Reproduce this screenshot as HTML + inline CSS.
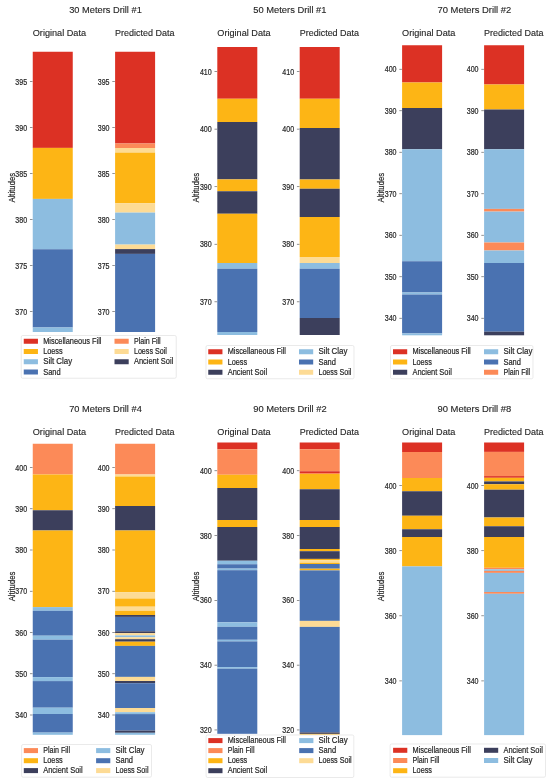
<!DOCTYPE html>
<html><head><meta charset="utf-8"><style>
html,body{margin:0;padding:0;background:#fff;}
body{width:550px;height:781px;overflow:hidden;}
svg{display:block;filter:blur(0.35px);}
.t{font-family:"Liberation Sans",sans-serif;font-size:8.5px;fill:#262626;stroke:#262626;stroke-width:0.12px;}
.k{font-family:"Liberation Sans",sans-serif;font-size:7.8px;fill:#262626;stroke:#262626;stroke-width:0.18px;}
.a{font-family:"Liberation Sans",sans-serif;font-size:7.8px;fill:#262626;stroke:#262626;stroke-width:0.18px;}
</style></head><body>
<svg width="550" height="781" viewBox="0 0 550 781">
<rect x="0" y="0" width="550" height="781" fill="#fff"/>
<text x="69.2" y="13.1" textLength="72.6" lengthAdjust="spacingAndGlyphs" class="t">30 Meters Drill #1</text>
<text x="32.75" y="36" textLength="53.3" lengthAdjust="spacingAndGlyphs" class="t">Original Data</text>
<text x="115.1" y="36" textLength="59.4" lengthAdjust="spacingAndGlyphs" class="t">Predicted Data</text>
<text transform="translate(14.55 187.7) rotate(-90) scale(1 1.15)" x="0" y="0" text-anchor="middle" textLength="29.8" lengthAdjust="spacingAndGlyphs" class="a">Altitudes</text>
<rect x="32.75" y="51.75" width="40" height="96.15" fill="#dc3124"/>
<rect x="32.75" y="147.9" width="40" height="51" fill="#fdb515"/>
<rect x="32.75" y="198.9" width="40" height="50.35" fill="#8dbde0"/>
<rect x="32.75" y="249.25" width="40" height="78.25" fill="#4a72b1"/>
<rect x="32.75" y="327.5" width="40" height="4.5" fill="#8dbde0"/>
<rect x="29.95" y="81.15" width="2.6" height="0.7" fill="#666"/>
<text transform="translate(27.15 84.6) scale(1 1.18)" text-anchor="end" textLength="11.8" lengthAdjust="spacingAndGlyphs" class="k">395</text>
<rect x="29.95" y="127.15" width="2.6" height="0.7" fill="#666"/>
<text transform="translate(27.15 130.6) scale(1 1.18)" text-anchor="end" textLength="11.8" lengthAdjust="spacingAndGlyphs" class="k">390</text>
<rect x="29.95" y="173.15" width="2.6" height="0.7" fill="#666"/>
<text transform="translate(27.15 176.6) scale(1 1.18)" text-anchor="end" textLength="11.8" lengthAdjust="spacingAndGlyphs" class="k">385</text>
<rect x="29.95" y="219.15" width="2.6" height="0.7" fill="#666"/>
<text transform="translate(27.15 222.6) scale(1 1.18)" text-anchor="end" textLength="11.8" lengthAdjust="spacingAndGlyphs" class="k">380</text>
<rect x="29.95" y="265.15" width="2.6" height="0.7" fill="#666"/>
<text transform="translate(27.15 268.6) scale(1 1.18)" text-anchor="end" textLength="11.8" lengthAdjust="spacingAndGlyphs" class="k">375</text>
<rect x="29.95" y="311.15" width="2.6" height="0.7" fill="#666"/>
<text transform="translate(27.15 314.6) scale(1 1.18)" text-anchor="end" textLength="11.8" lengthAdjust="spacingAndGlyphs" class="k">370</text>
<rect x="115.1" y="51.75" width="40" height="91.75" fill="#dc3124"/>
<rect x="115.1" y="143.5" width="40" height="4.5" fill="#fc8a58"/>
<rect x="115.1" y="148" width="40" height="4.6" fill="#fddb95"/>
<rect x="115.1" y="152.6" width="40" height="50.5" fill="#fdb515"/>
<rect x="115.1" y="203.1" width="40" height="9.5" fill="#fddb95"/>
<rect x="115.1" y="212.6" width="40" height="32" fill="#8dbde0"/>
<rect x="115.1" y="244.6" width="40" height="4.5" fill="#fddb95"/>
<rect x="115.1" y="249.1" width="40" height="4.8" fill="#3c3f5c"/>
<rect x="115.1" y="253.9" width="40" height="78.1" fill="#4a72b1"/>
<rect x="112.3" y="81.15" width="2.6" height="0.7" fill="#666"/>
<text transform="translate(109.5 84.6) scale(1 1.18)" text-anchor="end" textLength="11.8" lengthAdjust="spacingAndGlyphs" class="k">395</text>
<rect x="112.3" y="127.15" width="2.6" height="0.7" fill="#666"/>
<text transform="translate(109.5 130.6) scale(1 1.18)" text-anchor="end" textLength="11.8" lengthAdjust="spacingAndGlyphs" class="k">390</text>
<rect x="112.3" y="173.15" width="2.6" height="0.7" fill="#666"/>
<text transform="translate(109.5 176.6) scale(1 1.18)" text-anchor="end" textLength="11.8" lengthAdjust="spacingAndGlyphs" class="k">385</text>
<rect x="112.3" y="219.15" width="2.6" height="0.7" fill="#666"/>
<text transform="translate(109.5 222.6) scale(1 1.18)" text-anchor="end" textLength="11.8" lengthAdjust="spacingAndGlyphs" class="k">380</text>
<rect x="112.3" y="265.15" width="2.6" height="0.7" fill="#666"/>
<text transform="translate(109.5 268.6) scale(1 1.18)" text-anchor="end" textLength="11.8" lengthAdjust="spacingAndGlyphs" class="k">375</text>
<rect x="112.3" y="311.15" width="2.6" height="0.7" fill="#666"/>
<text transform="translate(109.5 314.6) scale(1 1.18)" text-anchor="end" textLength="11.8" lengthAdjust="spacingAndGlyphs" class="k">370</text>
<rect x="21.25" y="335.5" width="155" height="42.75" rx="1.5" fill="#ffffff" fill-opacity="0.8" stroke="#dcdcdc" stroke-width="0.6"/>
<rect x="23.75" y="338.75" width="14.2" height="5" fill="#dc3124"/>
<text transform="translate(43.15 343.95) scale(1 1.07)" textLength="58.3" lengthAdjust="spacingAndGlyphs" class="k">Miscellaneous Fill</text>
<rect x="23.75" y="349" width="14.2" height="5" fill="#fdb515"/>
<text transform="translate(43.15 354.2) scale(1 1.07)" textLength="19.5" lengthAdjust="spacingAndGlyphs" class="k">Loess</text>
<rect x="23.75" y="359.25" width="14.2" height="5" fill="#8dbde0"/>
<text transform="translate(43.15 364.45) scale(1 1.07)" textLength="29" lengthAdjust="spacingAndGlyphs" class="k">Silt Clay</text>
<rect x="23.75" y="369.5" width="14.2" height="5" fill="#4a72b1"/>
<text transform="translate(43.15 374.7) scale(1 1.07)" textLength="17.5" lengthAdjust="spacingAndGlyphs" class="k">Sand</text>
<rect x="114.5" y="338.75" width="14.2" height="5" fill="#fc8a58"/>
<text transform="translate(133.9 343.95) scale(1 1.07)" textLength="26.8" lengthAdjust="spacingAndGlyphs" class="k">Plain Fill</text>
<rect x="114.5" y="349" width="14.2" height="5" fill="#fddb95"/>
<text transform="translate(133.9 354.2) scale(1 1.07)" textLength="33" lengthAdjust="spacingAndGlyphs" class="k">Loess Soil</text>
<rect x="114.5" y="359.25" width="14.2" height="5" fill="#3c3f5c"/>
<text transform="translate(133.9 364.45) scale(1 1.07)" textLength="39.4" lengthAdjust="spacingAndGlyphs" class="k">Ancient Soil</text>
<text x="253.25" y="13.1" textLength="73.25" lengthAdjust="spacingAndGlyphs" class="t">50 Meters Drill #1</text>
<text x="217.3" y="36" textLength="53.3" lengthAdjust="spacingAndGlyphs" class="t">Original Data</text>
<text x="299.7" y="36" textLength="59.4" lengthAdjust="spacingAndGlyphs" class="t">Predicted Data</text>
<text transform="translate(199.1 187.7) rotate(-90) scale(1 1.15)" x="0" y="0" text-anchor="middle" textLength="29.8" lengthAdjust="spacingAndGlyphs" class="a">Altitudes</text>
<rect x="217.3" y="47" width="40" height="51.75" fill="#dc3124"/>
<rect x="217.3" y="98.75" width="40" height="23.25" fill="#fdb515"/>
<rect x="217.3" y="122" width="40" height="57.4" fill="#3c3f5c"/>
<rect x="217.3" y="179.4" width="40" height="11.85" fill="#fdb515"/>
<rect x="217.3" y="191.25" width="40" height="22.5" fill="#3c3f5c"/>
<rect x="217.3" y="213.75" width="40" height="49.25" fill="#fdb515"/>
<rect x="217.3" y="263" width="40" height="5.75" fill="#8dbde0"/>
<rect x="217.3" y="268.75" width="40" height="63.25" fill="#4a72b1"/>
<rect x="217.3" y="332" width="40" height="3" fill="#8dbde0"/>
<rect x="214.5" y="71.22" width="2.6" height="0.7" fill="#666"/>
<text transform="translate(211.7 74.67) scale(1 1.18)" text-anchor="end" textLength="11.8" lengthAdjust="spacingAndGlyphs" class="k">410</text>
<rect x="214.5" y="128.78" width="2.6" height="0.7" fill="#666"/>
<text transform="translate(211.7 132.23) scale(1 1.18)" text-anchor="end" textLength="11.8" lengthAdjust="spacingAndGlyphs" class="k">400</text>
<rect x="214.5" y="186.34" width="2.6" height="0.7" fill="#666"/>
<text transform="translate(211.7 189.79) scale(1 1.18)" text-anchor="end" textLength="11.8" lengthAdjust="spacingAndGlyphs" class="k">390</text>
<rect x="214.5" y="243.9" width="2.6" height="0.7" fill="#666"/>
<text transform="translate(211.7 247.35) scale(1 1.18)" text-anchor="end" textLength="11.8" lengthAdjust="spacingAndGlyphs" class="k">380</text>
<rect x="214.5" y="301.46" width="2.6" height="0.7" fill="#666"/>
<text transform="translate(211.7 304.91) scale(1 1.18)" text-anchor="end" textLength="11.8" lengthAdjust="spacingAndGlyphs" class="k">370</text>
<rect x="299.7" y="47" width="40" height="51.75" fill="#dc3124"/>
<rect x="299.7" y="98.75" width="40" height="29.25" fill="#fdb515"/>
<rect x="299.7" y="128" width="40" height="51.5" fill="#3c3f5c"/>
<rect x="299.7" y="179.5" width="40" height="9.25" fill="#fdb515"/>
<rect x="299.7" y="188.75" width="40" height="28.25" fill="#3c3f5c"/>
<rect x="299.7" y="217" width="40" height="40" fill="#fdb515"/>
<rect x="299.7" y="257" width="40" height="6" fill="#fddb95"/>
<rect x="299.7" y="263" width="40" height="5.75" fill="#8dbde0"/>
<rect x="299.7" y="268.75" width="40" height="49.25" fill="#4a72b1"/>
<rect x="299.7" y="318" width="40" height="17" fill="#3c3f5c"/>
<rect x="296.9" y="71.22" width="2.6" height="0.7" fill="#666"/>
<text transform="translate(294.1 74.67) scale(1 1.18)" text-anchor="end" textLength="11.8" lengthAdjust="spacingAndGlyphs" class="k">410</text>
<rect x="296.9" y="128.78" width="2.6" height="0.7" fill="#666"/>
<text transform="translate(294.1 132.23) scale(1 1.18)" text-anchor="end" textLength="11.8" lengthAdjust="spacingAndGlyphs" class="k">400</text>
<rect x="296.9" y="186.34" width="2.6" height="0.7" fill="#666"/>
<text transform="translate(294.1 189.79) scale(1 1.18)" text-anchor="end" textLength="11.8" lengthAdjust="spacingAndGlyphs" class="k">390</text>
<rect x="296.9" y="243.9" width="2.6" height="0.7" fill="#666"/>
<text transform="translate(294.1 247.35) scale(1 1.18)" text-anchor="end" textLength="11.8" lengthAdjust="spacingAndGlyphs" class="k">380</text>
<rect x="296.9" y="301.46" width="2.6" height="0.7" fill="#666"/>
<text transform="translate(294.1 304.91) scale(1 1.18)" text-anchor="end" textLength="11.8" lengthAdjust="spacingAndGlyphs" class="k">370</text>
<rect x="206" y="345.5" width="148" height="33.25" rx="1.5" fill="#ffffff" fill-opacity="0.8" stroke="#dcdcdc" stroke-width="0.6"/>
<rect x="208.25" y="349.25" width="14.2" height="5" fill="#dc3124"/>
<text transform="translate(227.65 354.45) scale(1 1.07)" textLength="58.3" lengthAdjust="spacingAndGlyphs" class="k">Miscellaneous Fill</text>
<rect x="208.25" y="359.5" width="14.2" height="5" fill="#fdb515"/>
<text transform="translate(227.65 364.7) scale(1 1.07)" textLength="19.5" lengthAdjust="spacingAndGlyphs" class="k">Loess</text>
<rect x="208.25" y="369.75" width="14.2" height="5" fill="#3c3f5c"/>
<text transform="translate(227.65 374.95) scale(1 1.07)" textLength="39.4" lengthAdjust="spacingAndGlyphs" class="k">Ancient Soil</text>
<rect x="299" y="349.25" width="14.2" height="5" fill="#8dbde0"/>
<text transform="translate(318.4 354.45) scale(1 1.07)" textLength="29" lengthAdjust="spacingAndGlyphs" class="k">Silt Clay</text>
<rect x="299" y="359.5" width="14.2" height="5" fill="#4a72b1"/>
<text transform="translate(318.4 364.7) scale(1 1.07)" textLength="17.5" lengthAdjust="spacingAndGlyphs" class="k">Sand</text>
<rect x="299" y="369.75" width="14.2" height="5" fill="#fddb95"/>
<text transform="translate(318.4 374.95) scale(1 1.07)" textLength="33" lengthAdjust="spacingAndGlyphs" class="k">Loess Soil</text>
<text x="437.5" y="13.1" textLength="73.75" lengthAdjust="spacingAndGlyphs" class="t">70 Meters Drill #2</text>
<text x="402.1" y="36" textLength="53.3" lengthAdjust="spacingAndGlyphs" class="t">Original Data</text>
<text x="484.1" y="36" textLength="59.4" lengthAdjust="spacingAndGlyphs" class="t">Predicted Data</text>
<text transform="translate(383.9 187.7) rotate(-90) scale(1 1.15)" x="0" y="0" text-anchor="middle" textLength="29.8" lengthAdjust="spacingAndGlyphs" class="a">Altitudes</text>
<rect x="402.1" y="45.25" width="40" height="37.25" fill="#dc3124"/>
<rect x="402.1" y="82.5" width="40" height="25.5" fill="#fdb515"/>
<rect x="402.1" y="108" width="40" height="41.25" fill="#3c3f5c"/>
<rect x="402.1" y="149.25" width="40" height="112" fill="#8dbde0"/>
<rect x="402.1" y="261.25" width="40" height="31.25" fill="#4a72b1"/>
<rect x="402.1" y="292.5" width="40" height="2" fill="#8dbde0"/>
<rect x="402.1" y="294.5" width="40" height="38.9" fill="#4a72b1"/>
<rect x="402.1" y="333.4" width="40" height="1.9" fill="#8dbde0"/>
<rect x="399.3" y="68.9" width="2.6" height="0.7" fill="#666"/>
<text transform="translate(396.5 72.35) scale(1 1.18)" text-anchor="end" textLength="11.8" lengthAdjust="spacingAndGlyphs" class="k">400</text>
<rect x="399.3" y="110.4" width="2.6" height="0.7" fill="#666"/>
<text transform="translate(396.5 113.85) scale(1 1.18)" text-anchor="end" textLength="11.8" lengthAdjust="spacingAndGlyphs" class="k">390</text>
<rect x="399.3" y="151.9" width="2.6" height="0.7" fill="#666"/>
<text transform="translate(396.5 155.35) scale(1 1.18)" text-anchor="end" textLength="11.8" lengthAdjust="spacingAndGlyphs" class="k">380</text>
<rect x="399.3" y="193.4" width="2.6" height="0.7" fill="#666"/>
<text transform="translate(396.5 196.85) scale(1 1.18)" text-anchor="end" textLength="11.8" lengthAdjust="spacingAndGlyphs" class="k">370</text>
<rect x="399.3" y="234.9" width="2.6" height="0.7" fill="#666"/>
<text transform="translate(396.5 238.35) scale(1 1.18)" text-anchor="end" textLength="11.8" lengthAdjust="spacingAndGlyphs" class="k">360</text>
<rect x="399.3" y="276.4" width="2.6" height="0.7" fill="#666"/>
<text transform="translate(396.5 279.85) scale(1 1.18)" text-anchor="end" textLength="11.8" lengthAdjust="spacingAndGlyphs" class="k">350</text>
<rect x="399.3" y="317.9" width="2.6" height="0.7" fill="#666"/>
<text transform="translate(396.5 321.35) scale(1 1.18)" text-anchor="end" textLength="11.8" lengthAdjust="spacingAndGlyphs" class="k">340</text>
<rect x="484.1" y="45.25" width="40" height="39.25" fill="#dc3124"/>
<rect x="484.1" y="84.5" width="40" height="25" fill="#fdb515"/>
<rect x="484.1" y="109.5" width="40" height="39.75" fill="#3c3f5c"/>
<rect x="484.1" y="149.25" width="40" height="59.65" fill="#8dbde0"/>
<rect x="484.1" y="208.9" width="40" height="2.7" fill="#fc8a58"/>
<rect x="484.1" y="211.6" width="40" height="30.9" fill="#8dbde0"/>
<rect x="484.1" y="242.5" width="40" height="8" fill="#fc8a58"/>
<rect x="484.1" y="250.5" width="40" height="12.5" fill="#8dbde0"/>
<rect x="484.1" y="263" width="40" height="68.7" fill="#4a72b1"/>
<rect x="484.1" y="331.7" width="40" height="3.6" fill="#3c3f5c"/>
<rect x="481.3" y="68.9" width="2.6" height="0.7" fill="#666"/>
<text transform="translate(478.5 72.35) scale(1 1.18)" text-anchor="end" textLength="11.8" lengthAdjust="spacingAndGlyphs" class="k">400</text>
<rect x="481.3" y="110.4" width="2.6" height="0.7" fill="#666"/>
<text transform="translate(478.5 113.85) scale(1 1.18)" text-anchor="end" textLength="11.8" lengthAdjust="spacingAndGlyphs" class="k">390</text>
<rect x="481.3" y="151.9" width="2.6" height="0.7" fill="#666"/>
<text transform="translate(478.5 155.35) scale(1 1.18)" text-anchor="end" textLength="11.8" lengthAdjust="spacingAndGlyphs" class="k">380</text>
<rect x="481.3" y="193.4" width="2.6" height="0.7" fill="#666"/>
<text transform="translate(478.5 196.85) scale(1 1.18)" text-anchor="end" textLength="11.8" lengthAdjust="spacingAndGlyphs" class="k">370</text>
<rect x="481.3" y="234.9" width="2.6" height="0.7" fill="#666"/>
<text transform="translate(478.5 238.35) scale(1 1.18)" text-anchor="end" textLength="11.8" lengthAdjust="spacingAndGlyphs" class="k">360</text>
<rect x="481.3" y="276.4" width="2.6" height="0.7" fill="#666"/>
<text transform="translate(478.5 279.85) scale(1 1.18)" text-anchor="end" textLength="11.8" lengthAdjust="spacingAndGlyphs" class="k">350</text>
<rect x="481.3" y="317.9" width="2.6" height="0.7" fill="#666"/>
<text transform="translate(478.5 321.35) scale(1 1.18)" text-anchor="end" textLength="11.8" lengthAdjust="spacingAndGlyphs" class="k">340</text>
<rect x="390.5" y="345.5" width="142.5" height="33.25" rx="1.5" fill="#ffffff" fill-opacity="0.8" stroke="#dcdcdc" stroke-width="0.6"/>
<rect x="393" y="349.25" width="14.2" height="5" fill="#dc3124"/>
<text transform="translate(412.4 354.45) scale(1 1.07)" textLength="58.3" lengthAdjust="spacingAndGlyphs" class="k">Miscellaneous Fill</text>
<rect x="393" y="359.5" width="14.2" height="5" fill="#fdb515"/>
<text transform="translate(412.4 364.7) scale(1 1.07)" textLength="19.5" lengthAdjust="spacingAndGlyphs" class="k">Loess</text>
<rect x="393" y="369.75" width="14.2" height="5" fill="#3c3f5c"/>
<text transform="translate(412.4 374.95) scale(1 1.07)" textLength="39.4" lengthAdjust="spacingAndGlyphs" class="k">Ancient Soil</text>
<rect x="484" y="349.25" width="14.2" height="5" fill="#8dbde0"/>
<text transform="translate(503.4 354.45) scale(1 1.07)" textLength="29" lengthAdjust="spacingAndGlyphs" class="k">Silt Clay</text>
<rect x="484" y="359.5" width="14.2" height="5" fill="#4a72b1"/>
<text transform="translate(503.4 364.7) scale(1 1.07)" textLength="17.5" lengthAdjust="spacingAndGlyphs" class="k">Sand</text>
<rect x="484" y="369.75" width="14.2" height="5" fill="#fc8a58"/>
<text transform="translate(503.4 374.95) scale(1 1.07)" textLength="26.8" lengthAdjust="spacingAndGlyphs" class="k">Plain Fill</text>
<text x="69.2" y="411.85" textLength="72.6" lengthAdjust="spacingAndGlyphs" class="t">70 Meters Drill #4</text>
<text x="32.75" y="434.75" textLength="53.3" lengthAdjust="spacingAndGlyphs" class="t">Original Data</text>
<text x="115.1" y="434.75" textLength="59.4" lengthAdjust="spacingAndGlyphs" class="t">Predicted Data</text>
<text transform="translate(14.55 586.45) rotate(-90) scale(1 1.15)" x="0" y="0" text-anchor="middle" textLength="29.8" lengthAdjust="spacingAndGlyphs" class="a">Altitudes</text>
<rect x="32.75" y="443.75" width="40" height="30.75" fill="#fc8a58"/>
<rect x="32.75" y="474.5" width="40" height="35.75" fill="#fdb515"/>
<rect x="32.75" y="510.25" width="40" height="20.25" fill="#3c3f5c"/>
<rect x="32.75" y="530.5" width="40" height="76.6" fill="#fdb515"/>
<rect x="32.75" y="607.1" width="40" height="3.7" fill="#8dbde0"/>
<rect x="32.75" y="610.8" width="40" height="24.9" fill="#4a72b1"/>
<rect x="32.75" y="635.7" width="40" height="4" fill="#8dbde0"/>
<rect x="32.75" y="639.7" width="40" height="37.4" fill="#4a72b1"/>
<rect x="32.75" y="677.1" width="40" height="4" fill="#8dbde0"/>
<rect x="32.75" y="681.1" width="40" height="26.6" fill="#4a72b1"/>
<rect x="32.75" y="707.7" width="40" height="6.3" fill="#8dbde0"/>
<rect x="32.75" y="714" width="40" height="18.6" fill="#4a72b1"/>
<rect x="32.75" y="732.6" width="40" height="2.2" fill="#8dbde0"/>
<rect x="29.95" y="467.15" width="2.6" height="0.7" fill="#666"/>
<text transform="translate(27.15 470.6) scale(1 1.18)" text-anchor="end" textLength="11.8" lengthAdjust="spacingAndGlyphs" class="k">400</text>
<rect x="29.95" y="508.4" width="2.6" height="0.7" fill="#666"/>
<text transform="translate(27.15 511.85) scale(1 1.18)" text-anchor="end" textLength="11.8" lengthAdjust="spacingAndGlyphs" class="k">390</text>
<rect x="29.95" y="549.65" width="2.6" height="0.7" fill="#666"/>
<text transform="translate(27.15 553.1) scale(1 1.18)" text-anchor="end" textLength="11.8" lengthAdjust="spacingAndGlyphs" class="k">380</text>
<rect x="29.95" y="590.9" width="2.6" height="0.7" fill="#666"/>
<text transform="translate(27.15 594.35) scale(1 1.18)" text-anchor="end" textLength="11.8" lengthAdjust="spacingAndGlyphs" class="k">370</text>
<rect x="29.95" y="632.15" width="2.6" height="0.7" fill="#666"/>
<text transform="translate(27.15 635.6) scale(1 1.18)" text-anchor="end" textLength="11.8" lengthAdjust="spacingAndGlyphs" class="k">360</text>
<rect x="29.95" y="673.4" width="2.6" height="0.7" fill="#666"/>
<text transform="translate(27.15 676.85) scale(1 1.18)" text-anchor="end" textLength="11.8" lengthAdjust="spacingAndGlyphs" class="k">350</text>
<rect x="29.95" y="714.65" width="2.6" height="0.7" fill="#666"/>
<text transform="translate(27.15 718.1) scale(1 1.18)" text-anchor="end" textLength="11.8" lengthAdjust="spacingAndGlyphs" class="k">340</text>
<rect x="115.1" y="443.75" width="40" height="30.75" fill="#fc8a58"/>
<rect x="115.1" y="474.5" width="40" height="2" fill="#fddb95"/>
<rect x="115.1" y="476.5" width="40" height="29.5" fill="#fdb515"/>
<rect x="115.1" y="506" width="40" height="24.5" fill="#3c3f5c"/>
<rect x="115.1" y="530.5" width="40" height="61.6" fill="#fdb515"/>
<rect x="115.1" y="592.1" width="40" height="6.4" fill="#fddb95"/>
<rect x="115.1" y="598.5" width="40" height="8.2" fill="#fdb515"/>
<rect x="115.1" y="606.7" width="40" height="4.1" fill="#fddb95"/>
<rect x="115.1" y="610.8" width="40" height="4.2" fill="#fdb515"/>
<rect x="115.1" y="615" width="40" height="1.9" fill="#3c3f5c"/>
<rect x="115.1" y="616.9" width="40" height="14.4" fill="#4a72b1"/>
<rect x="115.1" y="631.3" width="40" height="1.9" fill="#3c3f5c"/>
<rect x="115.1" y="633.2" width="40" height="2.2" fill="#fddb95"/>
<rect x="115.1" y="635.4" width="40" height="1.9" fill="#8dbde0"/>
<rect x="115.1" y="637.3" width="40" height="1.9" fill="#fddb95"/>
<rect x="115.1" y="639.2" width="40" height="2.5" fill="#3c3f5c"/>
<rect x="115.1" y="641.7" width="40" height="4.2" fill="#fdb515"/>
<rect x="115.1" y="645.9" width="40" height="31" fill="#4a72b1"/>
<rect x="115.1" y="676.9" width="40" height="4.1" fill="#fddb95"/>
<rect x="115.1" y="681" width="40" height="2.2" fill="#3c3f5c"/>
<rect x="115.1" y="683.2" width="40" height="24.8" fill="#4a72b1"/>
<rect x="115.1" y="708" width="40" height="4.2" fill="#fddb95"/>
<rect x="115.1" y="712.2" width="40" height="1.9" fill="#8dbde0"/>
<rect x="115.1" y="714.1" width="40" height="16.5" fill="#4a72b1"/>
<rect x="115.1" y="730.6" width="40" height="2.2" fill="#3c3f5c"/>
<rect x="115.1" y="732.8" width="40" height="2" fill="#8dbde0"/>
<rect x="112.3" y="467.15" width="2.6" height="0.7" fill="#666"/>
<text transform="translate(109.5 470.6) scale(1 1.18)" text-anchor="end" textLength="11.8" lengthAdjust="spacingAndGlyphs" class="k">400</text>
<rect x="112.3" y="508.4" width="2.6" height="0.7" fill="#666"/>
<text transform="translate(109.5 511.85) scale(1 1.18)" text-anchor="end" textLength="11.8" lengthAdjust="spacingAndGlyphs" class="k">390</text>
<rect x="112.3" y="549.65" width="2.6" height="0.7" fill="#666"/>
<text transform="translate(109.5 553.1) scale(1 1.18)" text-anchor="end" textLength="11.8" lengthAdjust="spacingAndGlyphs" class="k">380</text>
<rect x="112.3" y="590.9" width="2.6" height="0.7" fill="#666"/>
<text transform="translate(109.5 594.35) scale(1 1.18)" text-anchor="end" textLength="11.8" lengthAdjust="spacingAndGlyphs" class="k">370</text>
<rect x="112.3" y="632.15" width="2.6" height="0.7" fill="#666"/>
<text transform="translate(109.5 635.6) scale(1 1.18)" text-anchor="end" textLength="11.8" lengthAdjust="spacingAndGlyphs" class="k">360</text>
<rect x="112.3" y="673.4" width="2.6" height="0.7" fill="#666"/>
<text transform="translate(109.5 676.85) scale(1 1.18)" text-anchor="end" textLength="11.8" lengthAdjust="spacingAndGlyphs" class="k">350</text>
<rect x="112.3" y="714.65" width="2.6" height="0.7" fill="#666"/>
<text transform="translate(109.5 718.1) scale(1 1.18)" text-anchor="end" textLength="11.8" lengthAdjust="spacingAndGlyphs" class="k">340</text>
<rect x="21.6" y="744.5" width="129.9" height="32.7" rx="1.5" fill="#ffffff" fill-opacity="0.8" stroke="#dcdcdc" stroke-width="0.6"/>
<rect x="23.8" y="748.1" width="14.2" height="5" fill="#fc8a58"/>
<text transform="translate(43.2 753.3) scale(1 1.07)" textLength="26.8" lengthAdjust="spacingAndGlyphs" class="k">Plain Fill</text>
<rect x="23.8" y="758.2" width="14.2" height="5" fill="#fdb515"/>
<text transform="translate(43.2 763.4) scale(1 1.07)" textLength="19.5" lengthAdjust="spacingAndGlyphs" class="k">Loess</text>
<rect x="23.8" y="768.1" width="14.2" height="5" fill="#3c3f5c"/>
<text transform="translate(43.2 773.3) scale(1 1.07)" textLength="39.4" lengthAdjust="spacingAndGlyphs" class="k">Ancient Soil</text>
<rect x="96.1" y="748.1" width="14.2" height="5" fill="#8dbde0"/>
<text transform="translate(115.5 753.3) scale(1 1.07)" textLength="29" lengthAdjust="spacingAndGlyphs" class="k">Silt Clay</text>
<rect x="96.1" y="758.2" width="14.2" height="5" fill="#4a72b1"/>
<text transform="translate(115.5 763.4) scale(1 1.07)" textLength="17.5" lengthAdjust="spacingAndGlyphs" class="k">Sand</text>
<rect x="96.1" y="768.1" width="14.2" height="5" fill="#fddb95"/>
<text transform="translate(115.5 773.3) scale(1 1.07)" textLength="33" lengthAdjust="spacingAndGlyphs" class="k">Loess Soil</text>
<text x="253.25" y="411.85" textLength="73.5" lengthAdjust="spacingAndGlyphs" class="t">90 Meters Drill #2</text>
<text x="217.3" y="434.75" textLength="53.3" lengthAdjust="spacingAndGlyphs" class="t">Original Data</text>
<text x="299.7" y="434.75" textLength="59.4" lengthAdjust="spacingAndGlyphs" class="t">Predicted Data</text>
<text transform="translate(199.1 586.45) rotate(-90) scale(1 1.15)" x="0" y="0" text-anchor="middle" textLength="29.8" lengthAdjust="spacingAndGlyphs" class="a">Altitudes</text>
<rect x="217.3" y="442.5" width="40" height="6.75" fill="#dc3124"/>
<rect x="217.3" y="449.25" width="40" height="25.5" fill="#fc8a58"/>
<rect x="217.3" y="474.75" width="40" height="13.25" fill="#fdb515"/>
<rect x="217.3" y="488" width="40" height="32" fill="#3c3f5c"/>
<rect x="217.3" y="520" width="40" height="7" fill="#fdb515"/>
<rect x="217.3" y="527" width="40" height="33.75" fill="#3c3f5c"/>
<rect x="217.3" y="560.75" width="40" height="3.5" fill="#8dbde0"/>
<rect x="217.3" y="564.25" width="40" height="4.35" fill="#4a72b1"/>
<rect x="217.3" y="568.6" width="40" height="1.6" fill="#8dbde0"/>
<rect x="217.3" y="570.2" width="40" height="52.1" fill="#4a72b1"/>
<rect x="217.3" y="622.3" width="40" height="4.5" fill="#8dbde0"/>
<rect x="217.3" y="626.8" width="40" height="13" fill="#4a72b1"/>
<rect x="217.3" y="639.8" width="40" height="1.6" fill="#8dbde0"/>
<rect x="217.3" y="641.4" width="40" height="25.7" fill="#4a72b1"/>
<rect x="217.3" y="667.1" width="40" height="1.6" fill="#8dbde0"/>
<rect x="217.3" y="668.7" width="40" height="65.1" fill="#4a72b1"/>
<rect x="214.5" y="470.4" width="2.6" height="0.7" fill="#666"/>
<text transform="translate(211.7 473.85) scale(1 1.18)" text-anchor="end" textLength="11.8" lengthAdjust="spacingAndGlyphs" class="k">400</text>
<rect x="214.5" y="535.2" width="2.6" height="0.7" fill="#666"/>
<text transform="translate(211.7 538.65) scale(1 1.18)" text-anchor="end" textLength="11.8" lengthAdjust="spacingAndGlyphs" class="k">380</text>
<rect x="214.5" y="600" width="2.6" height="0.7" fill="#666"/>
<text transform="translate(211.7 603.45) scale(1 1.18)" text-anchor="end" textLength="11.8" lengthAdjust="spacingAndGlyphs" class="k">360</text>
<rect x="214.5" y="664.8" width="2.6" height="0.7" fill="#666"/>
<text transform="translate(211.7 668.25) scale(1 1.18)" text-anchor="end" textLength="11.8" lengthAdjust="spacingAndGlyphs" class="k">340</text>
<rect x="214.5" y="729.6" width="2.6" height="0.7" fill="#666"/>
<text transform="translate(211.7 733.05) scale(1 1.18)" text-anchor="end" textLength="11.8" lengthAdjust="spacingAndGlyphs" class="k">320</text>
<rect x="299.7" y="442.5" width="40" height="6.75" fill="#dc3124"/>
<rect x="299.7" y="449.25" width="40" height="22" fill="#fc8a58"/>
<rect x="299.7" y="471.25" width="40" height="1.75" fill="#dc3124"/>
<rect x="299.7" y="473" width="40" height="1" fill="#fc8a58"/>
<rect x="299.7" y="474" width="40" height="15.25" fill="#fdb515"/>
<rect x="299.7" y="489.25" width="40" height="30.75" fill="#3c3f5c"/>
<rect x="299.7" y="520" width="40" height="7" fill="#fdb515"/>
<rect x="299.7" y="527" width="40" height="22" fill="#3c3f5c"/>
<rect x="299.7" y="549" width="40" height="2.2" fill="#fdb515"/>
<rect x="299.7" y="551.2" width="40" height="7.7" fill="#3c3f5c"/>
<rect x="299.7" y="558.9" width="40" height="1.3" fill="#fdb515"/>
<rect x="299.7" y="560.2" width="40" height="2.5" fill="#fddb95"/>
<rect x="299.7" y="562.7" width="40" height="1.3" fill="#fdb515"/>
<rect x="299.7" y="564" width="40" height="4.7" fill="#4a72b1"/>
<rect x="299.7" y="568.7" width="40" height="1.7" fill="#fdb515"/>
<rect x="299.7" y="570.4" width="40" height="50.5" fill="#4a72b1"/>
<rect x="299.7" y="620.9" width="40" height="6" fill="#fddb95"/>
<rect x="299.7" y="626.9" width="40" height="105.5" fill="#4a72b1"/>
<rect x="299.7" y="732.4" width="40" height="1.5" fill="#3c3f5c"/>
<rect x="299.7" y="733.9" width="40" height="0.7" fill="#fdb515"/>
<rect x="296.9" y="470.4" width="2.6" height="0.7" fill="#666"/>
<text transform="translate(294.1 473.85) scale(1 1.18)" text-anchor="end" textLength="11.8" lengthAdjust="spacingAndGlyphs" class="k">400</text>
<rect x="296.9" y="535.2" width="2.6" height="0.7" fill="#666"/>
<text transform="translate(294.1 538.65) scale(1 1.18)" text-anchor="end" textLength="11.8" lengthAdjust="spacingAndGlyphs" class="k">380</text>
<rect x="296.9" y="600" width="2.6" height="0.7" fill="#666"/>
<text transform="translate(294.1 603.45) scale(1 1.18)" text-anchor="end" textLength="11.8" lengthAdjust="spacingAndGlyphs" class="k">360</text>
<rect x="296.9" y="664.8" width="2.6" height="0.7" fill="#666"/>
<text transform="translate(294.1 668.25) scale(1 1.18)" text-anchor="end" textLength="11.8" lengthAdjust="spacingAndGlyphs" class="k">340</text>
<rect x="296.9" y="729.6" width="2.6" height="0.7" fill="#666"/>
<text transform="translate(294.1 733.05) scale(1 1.18)" text-anchor="end" textLength="11.8" lengthAdjust="spacingAndGlyphs" class="k">320</text>
<rect x="206.1" y="735" width="147.7" height="42.5" rx="1.5" fill="#ffffff" fill-opacity="0.8" stroke="#dcdcdc" stroke-width="0.6"/>
<rect x="208.3" y="738.1" width="14.2" height="5" fill="#dc3124"/>
<text transform="translate(227.7 743.3) scale(1 1.07)" textLength="58.3" lengthAdjust="spacingAndGlyphs" class="k">Miscellaneous Fill</text>
<rect x="208.3" y="748.1" width="14.2" height="5" fill="#fc8a58"/>
<text transform="translate(227.7 753.3) scale(1 1.07)" textLength="26.8" lengthAdjust="spacingAndGlyphs" class="k">Plain Fill</text>
<rect x="208.3" y="758.2" width="14.2" height="5" fill="#fdb515"/>
<text transform="translate(227.7 763.4) scale(1 1.07)" textLength="19.5" lengthAdjust="spacingAndGlyphs" class="k">Loess</text>
<rect x="208.3" y="768.2" width="14.2" height="5" fill="#3c3f5c"/>
<text transform="translate(227.7 773.4) scale(1 1.07)" textLength="39.4" lengthAdjust="spacingAndGlyphs" class="k">Ancient Soil</text>
<rect x="299.2" y="738.1" width="14.2" height="5" fill="#8dbde0"/>
<text transform="translate(318.6 743.3) scale(1 1.07)" textLength="29" lengthAdjust="spacingAndGlyphs" class="k">Silt Clay</text>
<rect x="299.2" y="748.1" width="14.2" height="5" fill="#4a72b1"/>
<text transform="translate(318.6 753.3) scale(1 1.07)" textLength="17.5" lengthAdjust="spacingAndGlyphs" class="k">Sand</text>
<rect x="299.2" y="758.2" width="14.2" height="5" fill="#fddb95"/>
<text transform="translate(318.6 763.4) scale(1 1.07)" textLength="33" lengthAdjust="spacingAndGlyphs" class="k">Loess Soil</text>
<text x="437.5" y="411.85" textLength="73.75" lengthAdjust="spacingAndGlyphs" class="t">90 Meters Drill #8</text>
<text x="402.1" y="434.75" textLength="53.3" lengthAdjust="spacingAndGlyphs" class="t">Original Data</text>
<text x="484.1" y="434.75" textLength="59.4" lengthAdjust="spacingAndGlyphs" class="t">Predicted Data</text>
<text transform="translate(383.9 586.45) rotate(-90) scale(1 1.15)" x="0" y="0" text-anchor="middle" textLength="29.8" lengthAdjust="spacingAndGlyphs" class="a">Altitudes</text>
<rect x="402.1" y="442.5" width="40" height="9.5" fill="#dc3124"/>
<rect x="402.1" y="452" width="40" height="26" fill="#fc8a58"/>
<rect x="402.1" y="478" width="40" height="13.25" fill="#fdb515"/>
<rect x="402.1" y="491.25" width="40" height="24.5" fill="#3c3f5c"/>
<rect x="402.1" y="515.75" width="40" height="13.5" fill="#fdb515"/>
<rect x="402.1" y="529.25" width="40" height="7.75" fill="#3c3f5c"/>
<rect x="402.1" y="537" width="40" height="29.4" fill="#fdb515"/>
<rect x="402.1" y="566.4" width="40" height="168.7" fill="#8dbde0"/>
<rect x="399.3" y="485.25" width="2.6" height="0.7" fill="#666"/>
<text transform="translate(396.5 488.7) scale(1 1.18)" text-anchor="end" textLength="11.8" lengthAdjust="spacingAndGlyphs" class="k">400</text>
<rect x="399.3" y="550.35" width="2.6" height="0.7" fill="#666"/>
<text transform="translate(396.5 553.8) scale(1 1.18)" text-anchor="end" textLength="11.8" lengthAdjust="spacingAndGlyphs" class="k">380</text>
<rect x="399.3" y="615.45" width="2.6" height="0.7" fill="#666"/>
<text transform="translate(396.5 618.9) scale(1 1.18)" text-anchor="end" textLength="11.8" lengthAdjust="spacingAndGlyphs" class="k">360</text>
<rect x="399.3" y="680.55" width="2.6" height="0.7" fill="#666"/>
<text transform="translate(396.5 684) scale(1 1.18)" text-anchor="end" textLength="11.8" lengthAdjust="spacingAndGlyphs" class="k">340</text>
<rect x="484.1" y="442.5" width="40" height="9.4" fill="#dc3124"/>
<rect x="484.1" y="451.9" width="40" height="24.2" fill="#fc8a58"/>
<rect x="484.1" y="476.1" width="40" height="1.7" fill="#dc3124"/>
<rect x="484.1" y="477.8" width="40" height="3.6" fill="#fdb515"/>
<rect x="484.1" y="481.4" width="40" height="2.8" fill="#3c3f5c"/>
<rect x="484.1" y="484.2" width="40" height="5.5" fill="#fdb515"/>
<rect x="484.1" y="489.7" width="40" height="27.8" fill="#3c3f5c"/>
<rect x="484.1" y="517.5" width="40" height="8.75" fill="#fdb515"/>
<rect x="484.1" y="526.25" width="40" height="10.75" fill="#3c3f5c"/>
<rect x="484.1" y="537" width="40" height="30.8" fill="#fdb515"/>
<rect x="484.1" y="567.8" width="40" height="1.5" fill="#fc8a58"/>
<rect x="484.1" y="569.3" width="40" height="1.6" fill="#8dbde0"/>
<rect x="484.1" y="570.9" width="40" height="2" fill="#fc8a58"/>
<rect x="484.1" y="572.9" width="40" height="19.1" fill="#8dbde0"/>
<rect x="484.1" y="592" width="40" height="1.8" fill="#fc8a58"/>
<rect x="484.1" y="593.8" width="40" height="141.3" fill="#8dbde0"/>
<rect x="481.3" y="485.25" width="2.6" height="0.7" fill="#666"/>
<text transform="translate(478.5 488.7) scale(1 1.18)" text-anchor="end" textLength="11.8" lengthAdjust="spacingAndGlyphs" class="k">400</text>
<rect x="481.3" y="550.35" width="2.6" height="0.7" fill="#666"/>
<text transform="translate(478.5 553.8) scale(1 1.18)" text-anchor="end" textLength="11.8" lengthAdjust="spacingAndGlyphs" class="k">380</text>
<rect x="481.3" y="615.45" width="2.6" height="0.7" fill="#666"/>
<text transform="translate(478.5 618.9) scale(1 1.18)" text-anchor="end" textLength="11.8" lengthAdjust="spacingAndGlyphs" class="k">360</text>
<rect x="481.3" y="680.55" width="2.6" height="0.7" fill="#666"/>
<text transform="translate(478.5 684) scale(1 1.18)" text-anchor="end" textLength="11.8" lengthAdjust="spacingAndGlyphs" class="k">340</text>
<rect x="390.1" y="744" width="155.4" height="33.2" rx="1.5" fill="#ffffff" fill-opacity="0.8" stroke="#dcdcdc" stroke-width="0.6"/>
<rect x="393.1" y="747.8" width="14.2" height="5" fill="#dc3124"/>
<text transform="translate(412.5 753) scale(1 1.07)" textLength="58.3" lengthAdjust="spacingAndGlyphs" class="k">Miscellaneous Fill</text>
<rect x="393.1" y="758" width="14.2" height="5" fill="#fc8a58"/>
<text transform="translate(412.5 763.2) scale(1 1.07)" textLength="26.8" lengthAdjust="spacingAndGlyphs" class="k">Plain Fill</text>
<rect x="393.1" y="768.2" width="14.2" height="5" fill="#fdb515"/>
<text transform="translate(412.5 773.4) scale(1 1.07)" textLength="19.5" lengthAdjust="spacingAndGlyphs" class="k">Loess</text>
<rect x="484" y="747.8" width="14.2" height="5" fill="#3c3f5c"/>
<text transform="translate(503.4 753) scale(1 1.07)" textLength="39.4" lengthAdjust="spacingAndGlyphs" class="k">Ancient Soil</text>
<rect x="484" y="758" width="14.2" height="5" fill="#8dbde0"/>
<text transform="translate(503.4 763.2) scale(1 1.07)" textLength="29" lengthAdjust="spacingAndGlyphs" class="k">Silt Clay</text>
</svg>
</body></html>
